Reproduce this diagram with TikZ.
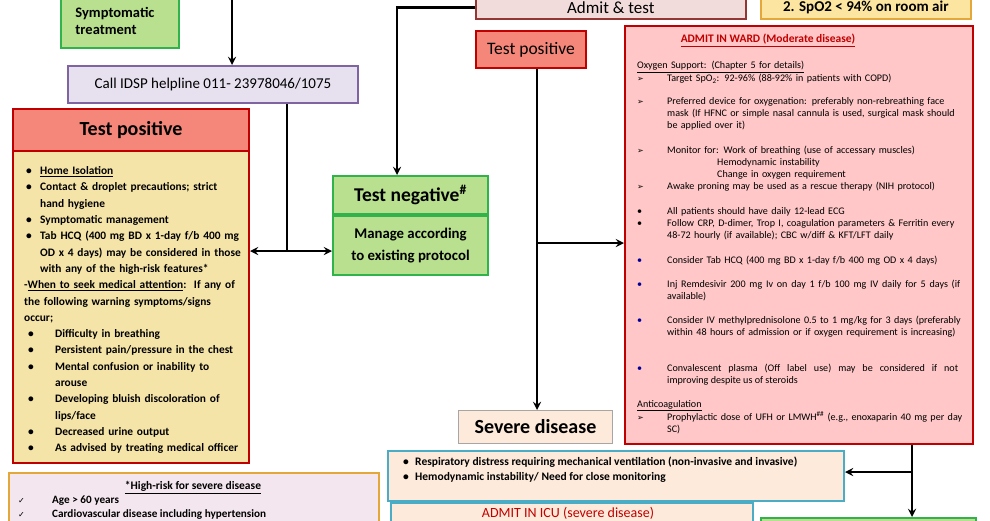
\documentclass[tikz,border=0pt]{standalone}
\usepackage{fontspec}
\setmainfont{Carlito}
\newfontfamily\symfont{DejaVu Sans}
\usepackage{tikz}
\usetikzlibrary{arrows, positioning, calc}

\definecolor{salmon}{HTML}{F4877A}
\definecolor{darkred}{HTML}{C00000}
\definecolor{tan}{HTML}{F5E4A8}
\definecolor{leaf}{HTML}{B8E08E}
\definecolor{leafline}{HTML}{2FB34A}
\definecolor{lilac}{HTML}{E6E0EF}
\definecolor{lilacline}{HTML}{8064A2}
\definecolor{rosy}{HTML}{F2DCDB}
\definecolor{rosyline}{HTML}{943634}
\definecolor{amber}{HTML}{FBE5A0}
\definecolor{amberline}{HTML}{E3A73A}
\definecolor{pinkfill}{HTML}{FFC7C7}
\definecolor{peach}{HTML}{FDEADA}
\definecolor{aqua}{HTML}{4BACC6}
\definecolor{mauve}{HTML}{F3E6EE}

\newcommand{\arr}{{\symfont\fontsize{8}{8}\selectfont ➢}}
\newcommand{\spk}{{\color{blue!60!black}\textbullet}}
% one marked line in a list: offset, label width, text width, marker, text
\newcommand{\mitem}[5]{\noindent\hspace*{#1}\makebox[#2][l]{#4}\parbox[t]{#3}{\raggedright\hyphenpenalty=10000 #5\strut}\par\prevdepth=\dp\strutbox}
\newcommand{\jitem}[5]{\noindent\hspace*{#1}\makebox[#2][l]{#4}\parbox[t]{#3}{\leftskip=0pt\rightskip=0pt\parfillskip=0pt plus 1fil\spaceskip=0pt\xspaceskip=0pt\hyphenpenalty=10000 #5\strut}\par\prevdepth=\dp\strutbox}

\begin{document}
\begin{tikzpicture}[
        x=1pt, y=-1pt,
        box/.style={rectangle, draw, line width=2pt, inner sep=0pt, anchor=north west, align=center},
        note/.style={anchor=north west, inner sep=0pt, text width=330pt, align=left, font=\fontsize{10.1}{12}\selectfont},
        arrow/.style={line width=2.6pt, ->, >=stealth},
        darrow/.style={line width=2.6pt, <->, >=stealth},
        link/.style={line width=2.6pt}
    ]
        \useasboundingbox (0,0) rectangle (990,520);
        \clip (0,0) rectangle (990,520);

        % Home care branch
        \node[box, draw=leafline, fill=leaf, minimum width=118pt, minimum height=52pt,
              font=\fontsize{14.5}{18}\selectfont\bfseries] (sympt) at (60,-5) {\begin{tabular}{@{}l@{}}Symptomatic\\[-1pt]treatment\end{tabular}\hspace*{10pt}};
        \node[box, draw=lilacline, fill=lilac, minimum width=290pt, minimum height=37pt,
              font=\fontsize{15}{17}\selectfont] (idsp) at (67,65) {Call IDSP helpline 011- 23978046/1075};
        \node[box, draw=darkred, fill=salmon, minimum width=236pt, minimum height=42pt,
              font=\fontsize{20}{22}\selectfont\bfseries] (tpos) at (12,108) {Test positive};
        \node[box, draw=darkred, fill=tan, minimum width=236pt, minimum height=312pt] (home) at (12,150) {};
        \node[anchor=north west, inner sep=0pt, text width=220pt, align=left,
              font=\fontsize{11.4}{16.3}\selectfont\bfseries] (homeText) at (26,163) {%
            \mitem{0pt}{14pt}{200pt}{\textbullet}{\underline{Home Isolation}}
            \mitem{0pt}{14pt}{200pt}{\textbullet}{Contact \& droplet precautions; strict hand hygiene}
            \mitem{0pt}{14pt}{200pt}{\textbullet}{Symptomatic management}
            \mitem{0pt}{14pt}{205pt}{\textbullet}{Tab HCQ (400 mg BD x 1-day f/b 400 mg OD x 4 days) may be considered in those with any of the high-risk features*}
            \mitem{-2pt}{0pt}{212pt}{}{-\underline{When to seek medical attention}:\ \ If any of the following warning symptoms/signs occur;}
            \mitem{2pt}{27pt}{185pt}{\textbullet}{Difficulty in breathing}
            \mitem{2pt}{27pt}{185pt}{\textbullet}{Persistent pain/pressure in the chest}
            \mitem{2pt}{27pt}{185pt}{\textbullet}{Mental confusion or inability to arouse}
            \mitem{2pt}{27pt}{185pt}{\textbullet}{Developing bluish discoloration of lips/face}
            \mitem{2pt}{27pt}{185pt}{\textbullet}{Decreased urine output}
            \mitem{2pt}{27pt}{185pt}{\textbullet}{As advised by treating medical officer}};

        % High-risk features
        \node[box, draw=amberline, fill=mauve, minimum width=370pt, minimum height=60pt, line width=1.6pt] (risk) at (8,472) {};
        \node[anchor=north, inner sep=0pt, font=\fontsize{11.5}{13}\selectfont\bfseries] (riskTitle) at (193,481) {\underline{*High-risk for severe disease}};
        \node[anchor=north west, inner sep=0pt, align=left, font=\fontsize{11.2}{14}\selectfont\bfseries] (riskText) at (18,496) {%
            \makebox[34pt][l]{\symfont\fontsize{8}{8}\selectfont ✓}Age > 60 years\\
            \makebox[34pt][l]{\symfont\fontsize{8}{8}\selectfont ✓}Cardiovascular disease including hypertension};

        % Negative result
        \node[box, draw=leafline, fill=leaf, minimum width=155pt, minimum height=38pt,
              font=\fontsize{19.5}{21}\selectfont\bfseries] (neg) at (332,175) {Test negative\textsuperscript{\#}};
        \node[box, draw=leafline, fill=leaf, minimum width=155pt, minimum height=59pt,
              font=\fontsize{14.8}{22}\selectfont\bfseries, anchor=north] (negText) at (neg.south) {Manage according\\to existing protocol};

        % Admission branch
        \node[box, draw=rosyline, fill=rosy, minimum width=270pt, minimum height=23pt, line width=1.6pt,
              font=\fontsize{17}{19}\selectfont] (admit) at (475,-5) {Admit \& test};
        \node[box, draw=amberline, fill=amber, minimum width=210pt, minimum height=23pt, line width=1.6pt,
              font=\fontsize{15}{17}\selectfont\bfseries] (spo) at (760,-5) {2. SpO2 < 94\% on room air};
        \node[box, draw=darkred, fill=salmon, minimum width=110pt, minimum height=37pt,
              font=\fontsize{17.5}{19}\selectfont] (tposB) at (475,30) {Test positive};
        \node[box, draw=darkred, fill=pinkfill, minimum width=348pt, minimum height=418pt, line width=2.4pt] (ward) at (624,25) {};

        \node[anchor=north, inner sep=0pt, font=\fontsize{11.5}{13}\selectfont\bfseries, text=darkred] (wardTitle) at (768,34) {\underline{ADMIT IN WARD (Moderate disease)}};
        \node[note] (o1) at (637,61) {\underline{Oxygen Support: (Chapter 5 for details)}\par
            \mitem{0pt}{30pt}{295pt}{\arr}{Target SpO\textsubscript{2}: 92-96\% (88-92\% in patients with COPD)}};
        \node[note] (o2) at (637,97) {\mitem{0pt}{30pt}{295pt}{\arr}{Preferred device for oxygenation: preferably non-rebreathing face mask (If HFNC or simple nasal cannula is used, surgical mask should be applied over it)}};
        \node[note] (o3) at (637,145) {\mitem{0pt}{30pt}{295pt}{\arr}{Monitor for: Work of breathing (use of accessary muscles)}
            \hspace*{80pt}Hemodynamic instability\par
            \hspace*{80pt}Change in oxygen requirement\par
            \mitem{0pt}{30pt}{295pt}{\arr}{Awake proning may be used as a rescue therapy (NIH protocol)}};
        \node[note] (o4) at (637,206) {\mitem{0pt}{30pt}{295pt}{\textbullet}{All patients should have daily 12-lead ECG}
            \mitem{0pt}{30pt}{295pt}{\textbullet}{Follow CRP, D-dimer, Trop I, coagulation parameters \& Ferritin every 48-72 hourly (if available); CBC w/diff \& KFT/LFT daily}};
        \node[note] (o5) at (637,255) {\mitem{0pt}{30pt}{295pt}{\spk}{Consider Tab HCQ (400 mg BD x 1-day f/b 400 mg OD x 4 days)}};
        \node[note] (o6) at (637,280) {\jitem{0pt}{30pt}{293pt}{\spk}{Inj Remdesivir 200 mg Iv on day 1 f/b 100 mg IV daily for 5 days (if available)}};
        \node[note] (o7) at (637,316) {\mitem{0pt}{30pt}{295pt}{\spk}{Consider IV methylprednisolone 0.5 to 1 mg/kg for 3 days (preferably within 48 hours of admission or if oxygen requirement is increasing)}};
        \node[note] (o8) at (637,364) {\jitem{0pt}{30pt}{291pt}{\spk}{Convalescent plasma (Off label use) may be considered if not\linebreak improving despite us of steroids}};
        \node[note] (o9) at (637,400) {\underline{Anticoagulation}\par
            \mitem{0pt}{30pt}{302pt}{\arr}{Prophylactic dose of UFH or LMWH\textsuperscript{\#\#} (e.g., enoxaparin 40 mg per day SC)}};

        % Severe disease
        \node[box, draw=gray!70, fill=peach, minimum width=154pt, minimum height=33pt, line width=1pt,
              font=\fontsize{20}{22}\selectfont\bfseries] (severe) at (458,410) {Severe disease};
        \node[box, draw=aqua, fill=peach, minimum width=456pt, minimum height=50pt] (icuCrit) at (387,450) {};
        \node[anchor=north west, inner sep=0pt, align=left, font=\fontsize{11.5}{15}\selectfont\bfseries] (icuCritText) at (403,457) {%
            \makebox[12pt][l]{\textbullet}Respiratory distress requiring mechanical ventilation (non-invasive and invasive)\\
            \makebox[12pt][l]{\textbullet}Hemodynamic instability/ Need for close monitoring};
        \node[box, draw=aqua, fill=peach, minimum width=362pt, minimum height=40pt] (icu) at (390,502) {};
        \node[anchor=north, inner sep=0pt, font=\fontsize{14}{16}\selectfont, text=darkred] (icuTitle) at (568,507) {ADMIT IN ICU (severe disease)};
        \node[box, draw=leafline, fill=leaf, minimum width=215pt, minimum height=30pt] (after) at (760,517) {};

        % Connectors
        \coordinate (topIn) at (232,0);
        \coordinate (j1) at (287,251);
        \coordinate (j2) at (537,243);
        \coordinate (j3) at (912,472);
        \coordinate (bend) at (397,0);
        \draw[arrow] (topIn) -- (idsp.north -| topIn);
        \draw[link] (idsp.south -| j1) -- (j1);
        \draw[darrow] (home.east |- j1) -- (neg.west |- j1);
        \draw[arrow] (admit.west) -| (neg.north -| bend);
        \draw[arrow] (tposB.south -| j2) -- (severe.north -| j2);
        \draw[arrow] (j2) -- (ward.west |- j2);
        \draw[arrow] (ward.south -| j3) -- (after.north -| j3);
        \draw[arrow] (j3) -- (icuCrit.east |- j3);
    \end{tikzpicture}
\end{document}
